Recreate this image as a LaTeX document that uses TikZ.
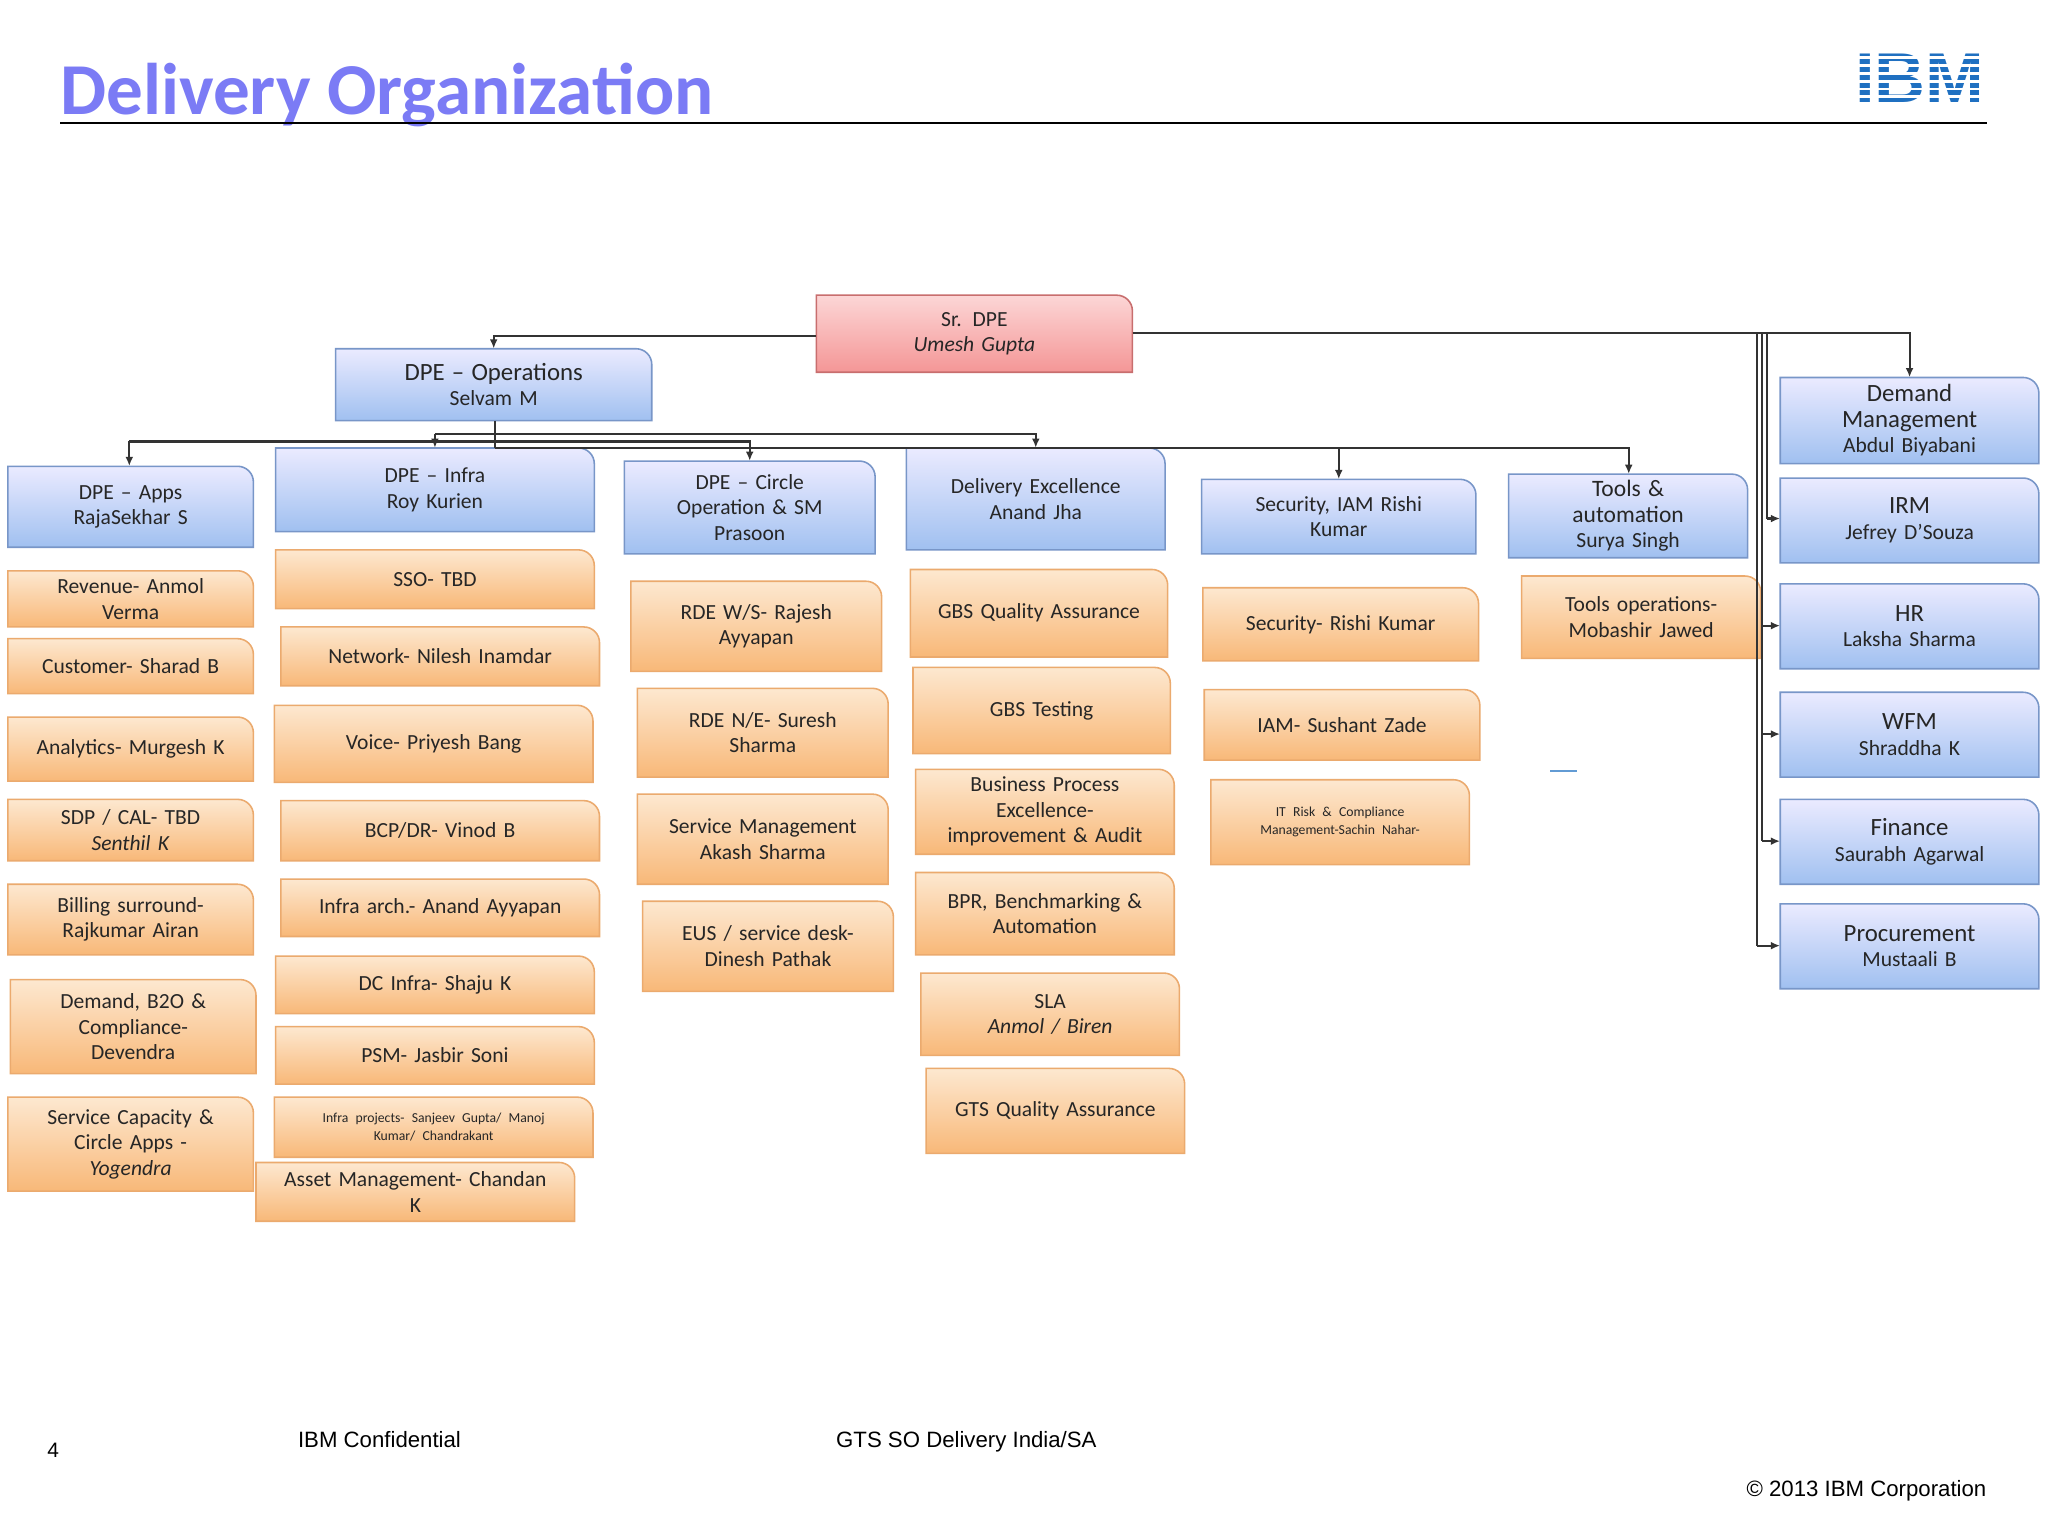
\documentclass[tikz,border=0pt]{standalone}
\usepackage{fontspec}
\setmainfont{Carlito}
\newfontfamily\arial{Liberation Sans}
\usetikzlibrary{arrows.meta}
\definecolor{ttl}{HTML}{7B7BF5}
\definecolor{ibmb}{HTML}{1F70C1}
\tikzset{
 bl/.style={top color=blue!8!white,bottom color={rgb,255:red,160;green,192;blue,240},draw={rgb,255:red,120;green,150;blue,200},line width=1.2pt},
 og/.style={top color={rgb,255:red,253;green,232;blue,208},bottom color={rgb,255:red,248;green,184;blue,120},draw={rgb,255:red,235;green,170;blue,110},line width=1.2pt},
 rd/.style={top color={rgb,255:red,252;green,214;blue,214},bottom color={rgb,255:red,244;green,150;blue,150},draw={rgb,255:red,200;green,110;blue,110},line width=1.2pt},
 txt/.style={inner sep=0pt,align=center,font=\fontsize{16.5}{19.5}\selectfont,text=black!85},
 conn/.style={line width=1.6pt,black!80},
 arr/.style={conn,-{Latex[length=7pt,width=6pt]}},
}
\newcommand\bx[7]{%
 \path[#2] (#3,-#6) -- (#3,-#4) -- (#5-12,-#4) arc[start angle=90,end angle=0,radius=12pt] -- (#5,-#6) -- cycle;
 \pgfmathsetmacro\tw{#5-#3-8}\pgfmathsetmacro\bw{#5-#3}\pgfmathsetmacro\bh{#6-#4}%
 \node[txt,text width=\tw pt,minimum width=\bw pt,minimum height=\bh pt] (#1) at ({(#3+#5)/2},{-(#4+#6)/2}) {#7};}
\begin{document}
\begin{tikzpicture}[x=1pt,y=1pt]
\useasboundingbox[fill=white] (0,0) rectangle (1568,-1176);
% title
\node[anchor=base west,inner sep=0pt,text=ttl,font=\fontsize{56}{60}\selectfont\bfseries] (title) at (46,-88) {Delivery Organization};
\draw[line width=1.2pt] (46,-94) -- (1521,-94);
\node[inner sep=0pt,text=ibmb,font=\arial\fontsize{54}{54}\selectfont\bfseries] (ibm) at (1470,-60) {IBM};
\foreach \yy in {-43,-49,-55,-61,-67,-73}{\fill[white] (1415,\yy) rectangle (1526,\yy-2.2);}
\bx{sr}{rd}{625}{226}{867}{285}{Sr. DPE\\\textit{Umesh Gupta}}
\bx{ops}{bl}{257}{267}{499}{322}{{\fontsize{19}{21}\selectfont DPE -- Operations}\\Selvam M}
\bx{apps}{bl}{6}{357}{194}{419}{DPE -- Apps\\RajaSekhar S}
\bx{a1}{og}{6}{437}{194}{480}{Revenue- Anmol\\Verma}
\bx{a2}{og}{6}{489}{194}{531}{Customer- Sharad B}
\bx{a3}{og}{6}{549}{194}{598}{Analytics- Murgesh K}
\bx{a4}{og}{6}{612}{194}{659}{SDP / CAL- TBD\\\textit{Senthil K}}
\bx{a5}{og}{6}{677}{194}{731}{Billing surround-\\Rajkumar Airan}
\bx{a6}{og}{8}{750}{196}{822}{Demand, B2O \&\\Compliance-\\Devendra}
\bx{a7}{og}{6}{840}{194}{912}{Service Capacity \&\\Circle Apps -\\\textit{Yogendra}}
\bx{infra}{bl}{211}{343}{455}{407}{DPE -- Infra\\Roy Kurien\\[10pt]}
\bx{b1}{og}{211}{421}{455}{466}{SSO- TBD}
\bx{b2}{og}{215}{480}{459}{525}{Network- Nilesh Inamdar}
\bx{b3}{og}{210}{540}{454}{599}{Voice- Priyesh Bang}
\bx{b4}{og}{215}{613}{459}{659}{BCP/DR- Vinod B}
\bx{b5}{og}{215}{673}{459}{717}{Infra arch.- Anand Ayyapan}
\bx{b6}{og}{211}{732}{455}{776}{DC Infra- Shaju K}
\bx{b7}{og}{211}{786}{455}{830}{PSM- Jasbir Soni}
\bx{b8}{og}{210}{840}{454}{886}{{\fontsize{10.5}{13}\selectfont Infra projects- Sanjeev Gupta/ Manoj\\[-6pt]Kumar/ Chandrakant}}
\bx{b9}{og}{196}{890}{440}{935}{Asset Management- Chandan\\K}
\bx{circ}{bl}{478}{353}{670}{424}{DPE -- Circle\\Operation \& SM\\Prasoon}
\bx{c1}{og}{483}{445}{675}{514}{RDE W/S- Rajesh\\Ayyapan}
\bx{c2}{og}{488}{527}{680}{595}{RDE N/E- Suresh\\Sharma}
\bx{c3}{og}{488}{608}{680}{677}{Service Management\\Akash Sharma}
\bx{c4}{og}{492}{690}{684}{759}{EUS / service desk-\\Dinesh Pathak}
\bx{dex}{bl}{694}{343}{892}{421}{Delivery Excellence\\Anand Jha\\[22pt]}
\bx{d1}{og}{697}{436}{894}{503}{GBS Quality Assurance}
\bx{d2}{og}{699}{511}{896}{577}{GBS Testing\\[4pt]}
\bx{d3}{og}{701}{589}{899}{654}{Business Process\\Excellence-\\improvement \& Audit}
\bx{d4}{og}{701}{668}{899}{731}{BPR, Benchmarking \&\\Automation}
\bx{d5}{og}{705}{745}{903}{808}{SLA\\\textit{Anmol / Biren}}
\bx{d6}{og}{709}{818}{907}{883}{GTS Quality Assurance}
\bx{sec}{bl}{920}{367}{1130}{424}{Security, IAM Rishi\\Kumar}
\bx{e1}{og}{921}{450}{1132}{506}{Security- Rishi Kumar}
\bx{e2}{og}{922}{528}{1133}{582}{IAM- Sushant Zade}
\bx{e3}{og}{927}{597}{1125}{662}{{\fontsize{10.5}{13}\selectfont IT Risk \& Compliance\\[-6pt]Management-Sachin Nahar-}}
\bx{tools}{bl}{1155}{363}{1338}{427}{{\fontsize{18}{20}\selectfont Tools \&\\automation}\\Surya Singh}
\bx{f1}{og}{1165}{441}{1348}{504}{Tools operations-\\Mobashir Jawed\\[14pt]}
\bx{dm}{bl}{1363}{289}{1561}{355}{{\fontsize{19}{21}\selectfont Demand\\Management}\\Abdul Biyabani}
\bx{irm}{bl}{1363}{366}{1561}{431}{{\fontsize{19}{21}\selectfont IRM}\\Jefrey D'Souza\\[12pt]}
\bx{hr}{bl}{1363}{447}{1561}{512}{{\fontsize{19}{21}\selectfont HR}\\Laksha Sharma\\[12pt]}
\bx{wfm}{bl}{1363}{530}{1561}{595}{{\fontsize{19}{21}\selectfont WFM}\\Shraddha K\\[12pt]}
\bx{fin}{bl}{1363}{612}{1561}{677}{{\fontsize{19}{21}\selectfont Finance}\\Saurabh Agarwal\\[12pt]}
\bx{proc}{bl}{1363}{692}{1561}{757}{{\fontsize{19}{21}\selectfont Procurement}\\Mustaali B\\[12pt]}
\draw[ibmb!70,line width=1.5pt] (1187,-590) -- (1207,-590);
% connectors
\coordinate (j1) at (378,-257);
\draw[arr] (sr.west |- j1) -- (j1) -- (ops.north -| j1);
\coordinate (j2) at (1462,-255);
\draw[arr] (sr.east |- j2) -- (j2) -- (dm.north -| j2);
\coordinate (bus1) at (1345,-255);
\coordinate (bus2) at (1349,-255);
\coordinate (bus3) at (1353,-255);
\draw[conn,line width=1.2pt] (bus3) -- (1353,-397);
\draw[arr] (1353,-397) -- (irm.west |- 0,-397);
\draw[conn,line width=1.2pt] (bus2) -- (1349,-644);
\draw[arr] (1349,-479) -- (hr.west |- 0,-479);
\draw[arr] (1349,-562) -- (wfm.west |- 0,-562);
\draw[arr] (1349,-644) -- (fin.west |- 0,-644);
\draw[conn,line width=1.2pt] (bus1) -- (1345,-724);
\draw[arr] (1345,-724) -- (proc.west |- 0,-724);
\coordinate (o1) at (379,-322);
\coordinate (l1) at (333,-332);
\coordinate (l2) at (99,-338);
\coordinate (l3) at (379,-343);
\draw[conn] (ops.south -| o1) -- (379,-343);
\draw[arr] (l1) -- (infra.north -| l1);
\draw[arr] (l1) -- (793,-332) -- (dex.north -| 793,0);
\draw[arr] (l2) -- (apps.north -| l2);
\draw[arr] (l2) -- (574,-338) -- (circ.north -| 574,0);
\draw[arr] (l3) -- (1025,-343) -- (sec.north -| 1025,0);
\draw[arr] (1025,-343) -- (1247,-343) -- (tools.north -| 1247,0);
% footer
\node[anchor=base west,inner sep=0pt,font=\arial\fontsize{16}{18}\selectfont] (pg) at (36,-1116) {4};
\node[anchor=base west,inner sep=0pt,font=\arial\fontsize{17}{19}\selectfont] (conf) at (228,-1108) {IBM Confidential};
\node[anchor=base west,inner sep=0pt,font=\arial\fontsize{17}{19}\selectfont] (gts) at (640,-1108) {GTS SO Delivery India/SA};
\node[anchor=base east,inner sep=0pt,font=\arial\fontsize{17}{19}\selectfont] (copy) at (1521,-1146) {© 2013 IBM Corporation};
\end{tikzpicture}
\end{document}
